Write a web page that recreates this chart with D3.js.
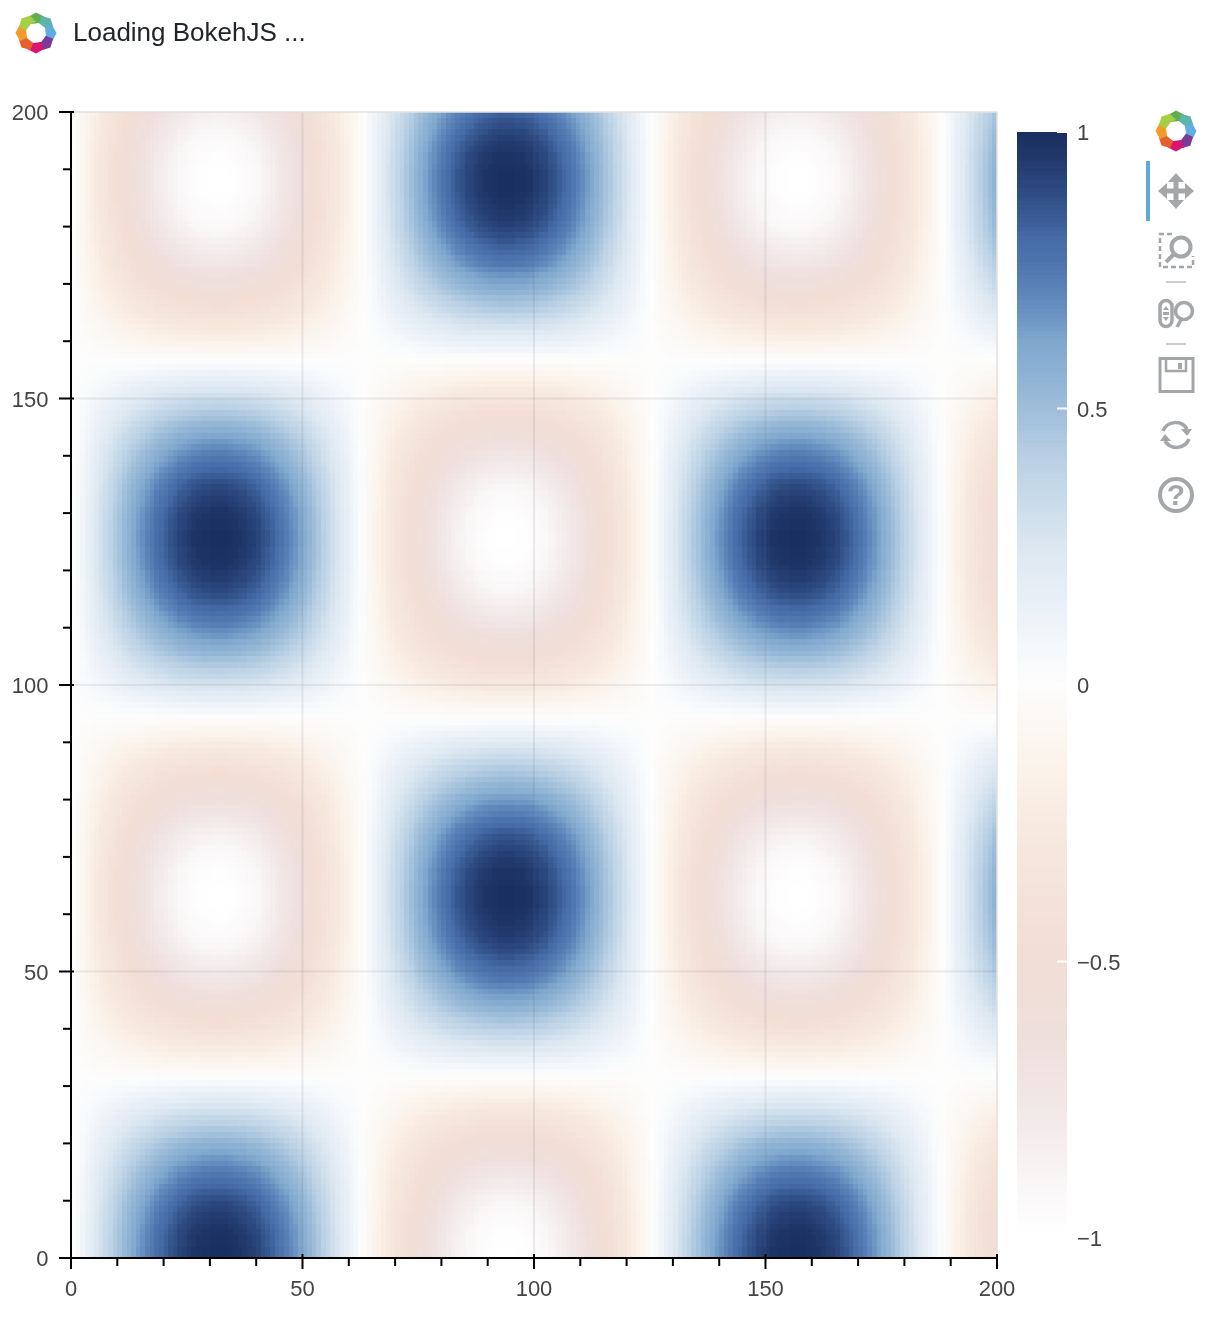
<!DOCTYPE html>
<html><head><meta charset="utf-8">
<style>html,body{margin:0;padding:0;background:#fff;overflow:hidden}
#wrap{position:relative;width:1214px;height:1338px}
canvas,svg{position:absolute;left:0;top:0}
text{font-family:"Liberation Sans",Arial,sans-serif}</style>
<script src="https://cdn.jsdelivr.net/npm/d3@7"></script></head>
<body><div id="wrap"><canvas id="img" width="1214" height="1338"></canvas><svg id="s" width="1214" height="1338"></svg></div>
<script>
// Horizontal and vertical brightness profiles (one entry per data column/row)
const colProfile=[0,.05,.10,.15,.20,.25,.30,.34,.39,.44,.48,.53,.57,.61,.65,.68,.72,.75,.79,.82,.84,.87,.89,.92,.93,.95,.97,.98,.99,.99,1,1,1,1,.99,.98,.97,.96,.94,.93,.91,.88,.86,.83,.80,.77,.74,.70,.67,.63,.59,.55,.50,.46,.41,.37,.32,.27,.22,.18,.13,.08,.03,-.02,-.07,-.12,-.17,-.22,-.27,-.32,-.37,-.41,-.46,-.50,-.55,-.59,-.63,-.67,-.70,-.74,-.77,-.80,-.83,-.86,-.88,-.91,-.92,-.94,-.96,-.97,-.98,-.99,-1,-1,-1,-1,-.99,-.99,-.98,-.97,-.95,-.93,-.92,-.89,-.87,-.84,-.82,-.79,-.76,-.72,-.69,-.65,-.61,-.57,-.53,-.48,-.44,-.39,-.35,-.30,-.25,-.20,-.15,-.10,-.05,0,.05,.10,.15,.20,.25,.30,.34,.39,.44,.48,.53,.57,.61,.65,.68,.72,.75,.79,.82,.84,.87,.89,.92,.93,.95,.97,.98,.99,.99,1,1,1,1,.99,.98,.97,.96,.94,.93,.91,.88,.86,.83,.80,.77,.74,.70,.67,.63,.59,.55,.50,.46,.41,.37,.32,.27,.22,.18,.13,.08,.03,-.02,-.07,-.12,-.17,-.22,-.27,-.32,-.37,-.41,-.46,-.50,-.55];
const rowProfile=[1,1,.99,.99,.98,.97,.95,.94,.92,.90,.88,.85,.82,.79,.76,.73,.69,.66,.62,.58,.54,.49,.45,.40,.36,.31,.26,.21,.16,.11,.06,.01,-.04,-.09,-.14,-.19,-.24,-.28,-.33,-.38,-.43,-.47,-.51,-.56,-.60,-.64,-.67,-.71,-.75,-.78,-.81,-.83,-.86,-.89,-.91,-.93,-.95,-.96,-.97,-.98,-.99,-1,-1,-1,-1,-.99,-.98,-.98,-.96,-.95,-.93,-.91,-.89,-.87,-.84,-.81,-.78,-.74,-.71,-.67,-.64,-.59,-.55,-.51,-.47,-.43,-.38,-.33,-.29,-.24,-.19,-.14,-.09,-.04,.01,.06,.11,.16,.21,.26,.31,.36,.40,.45,.49,.54,.58,.62,.66,.69,.73,.76,.79,.82,.85,.88,.90,.92,.94,.95,.97,.98,.99,.99,1,1,1,.99,.99,.98,.97,.95,.94,.92,.90,.88,.85,.82,.79,.76,.73,.69,.66,.62,.58,.54,.49,.45,.40,.36,.31,.26,.21,.16,.11,.06,.01,-.04,-.09,-.14,-.19,-.24,-.28,-.33,-.38,-.43,-.47,-.51,-.56,-.60,-.64,-.67,-.71,-.75,-.78,-.81,-.83,-.86,-.89,-.91,-.93,-.95,-.96,-.97,-.98,-.99,-1,-1,-1,-1,-.99,-.98,-.98,-.96,-.95,-.93,-.91,-.89,-.87,-.84];
const colorStops=[-1,-.9,-.8,-.65,-.5,-.44,-.35,-.26,-.17,-.05,0,.063,.154,.244,.335,.4,.5,.62,.7,.77,.8,.85,.9,.95,1];
const colorValues=["#ffffff","#f9f6f6","#f3eaeb","#efdfdd","#f1ded5","#f3dfd6","#f5e5db","#f7e9df","#fbf1e8","#fbf9f6","#fdfdfd","#f6f9fb","#e9eff7","#dde8f1","#c9dbea","#bcd2e5","#9fbeda","#80a8ce","#6189bc","#4d74ae","#486eaa","#3a5b95","#2c4a80","#233a6e","#1a2f61"];
const axisTicks=[0,50,100,150,200];
const minorTicks=[10,20,30,40,60,70,80,90,110,120,130,140,160,170,180,190];
const barTicks=[1,.5,0,-.5,-1];
const barLabels=["1","0.5","0","\u22120.5","\u22121"];
const logoColors=["#5fae4f","#5db4ac","#62addf","#7a3b98","#d8176f","#e5612b","#f29b2c","#a6cf45"];

const W=1214,H=1338,frame={l:71,r:997,t:112,b:1258};
const x=d3.scaleLinear().domain([0,200]).range([frame.l,frame.r]);
const y=d3.scaleLinear().domain([0,200]).range([frame.b,frame.t]);
const ramp=d3.scaleLinear().domain(colorStops).range(colorValues).interpolate(d3.interpolateRgb);
const palette=d3.range(256).map(i=>ramp(-1+2*i/255));
const color=d3.scaleQuantize().domain([-1,1]).range(palette);
const barY=d3.scaleLinear().domain([-1,1]).range([1238,132]);

const ctx=document.getElementById('img').getContext('2d');
ctx.fillStyle='#fff';ctx.fillRect(0,0,W,H);
rowProfile.forEach((rv,j)=>{colProfile.forEach((cv,i)=>{
  ctx.fillStyle=color(cv*rv);
  const x0=Math.round(x(i)),x1=Math.round(x(i+1)),y0=Math.round(y(j+1)),y1=Math.round(y(j));
  ctx.fillRect(x0,y0,x1-x0,y1-y0);
});});
// colour bar
palette.forEach((c,i)=>{
  const y0=Math.round(barY(-1+2*(i+1)/256)),y1=Math.round(barY(-1+2*i/256));
  ctx.fillStyle=c;ctx.fillRect(1017,y0,50,y1-y0);
});

const svg=d3.select('#s');
const defs=svg.append('defs');
defs.append('filter').attr('id','soft').append('feGaussianBlur').attr('stdDeviation',.6);
// grid and outline
const gridC='rgba(110,105,115,.12)';
const grid=svg.append('g').attr('stroke',gridC).attr('stroke-width',2).attr('fill','none');
grid.selectAll('.v').data(axisTicks.slice(1,4)).join('line').attr('x1',d=>x(d)).attr('x2',d=>x(d)).attr('y1',frame.t).attr('y2',frame.b);
grid.selectAll('.h').data(axisTicks.slice(1,4)).join('line').attr('class','h').attr('y1',d=>y(d)).attr('y2',d=>y(d)).attr('x1',frame.l).attr('x2',frame.r);
svg.append('path').attr('d',`M${frame.l},${frame.t}H${frame.r}V${frame.b}`).attr('fill','none').attr('stroke','#e3dfdf').attr('stroke-width',1.5);
// axes
const ax=svg.append('g').attr('stroke','#000').attr('stroke-width',2).attr('fill','none');
ax.append('line').attr('x1',frame.l).attr('x2',frame.r).attr('y1',frame.b).attr('y2',frame.b);
ax.append('line').attr('x1',frame.l).attr('x2',frame.l).attr('y1',frame.t-1).attr('y2',frame.b+1);
ax.append('g').selectAll('line').data(axisTicks).join('line').attr('x1',d=>x(d)).attr('x2',d=>x(d)).attr('y1',frame.b-4).attr('y2',frame.b+11);
ax.append('g').selectAll('line').data(minorTicks).join('line').attr('x1',d=>x(d)).attr('x2',d=>x(d)).attr('y1',frame.b).attr('y2',frame.b+8);
ax.append('g').selectAll('line').data(axisTicks).join('line').attr('y1',d=>y(d)).attr('y2',d=>y(d)).attr('x1',frame.l-12).attr('x2',frame.l+3);
ax.append('g').selectAll('line').data(minorTicks).join('line').attr('y1',d=>y(d)).attr('y2',d=>y(d)).attr('x1',frame.l-8).attr('x2',frame.l);
const lab=svg.append('g').attr('fill','#444').attr('font-size',22);
lab.selectAll('.xl').data(axisTicks).join('text').attr('x',d=>x(d)).attr('y',1296).attr('text-anchor','middle').text(d=>d);
lab.append('g').selectAll('text').data(axisTicks).join('text').attr('x',48.5).attr('y',d=>y(d)+8).attr('text-anchor','end').text(d=>d);
// colour-bar ticks and labels
svg.append('g').attr('stroke','#fff').attr('stroke-width',2).selectAll('line').data(barTicks).join('line')
 .attr('x1',1057).attr('x2',1067).attr('y1',d=>barY(d)).attr('y2',d=>barY(d));
lab.append('g').selectAll('text').data(barTicks).join('text').attr('x',1077).attr('y',d=>barY(d)+8).text((d,i)=>barLabels[i]);
// loading header
svg.append('text').attr('x',73).attr('y',41).attr('font-size',26).attr('fill','#212529').text('Loading BokehJS ...');
// logo
function logo(cx,cy){
  const g=svg.append('g').attr('transform',`translate(${cx},${cy})`).attr('filter','url(#soft)');
  logoColors.forEach((c,i)=>{
    g.append('path').attr('transform',`rotate(${i*45})`).attr('d','M-5,-9L-8,-16L0,-20.5L8,-16.5L8,-8L3,-10Z').attr('fill',c);
  });
  g.append('circle').attr('r',8.5).attr('fill','#fff');
}
logo(36,33);logo(1176,131);
// toolbar
svg.append('rect').attr('x',1146).attr('y',161).attr('width',4).attr('height',60).attr('fill','#5ea8dc');
const tb=svg.append('g').attr('fill','none').attr('stroke','#a3a7aa').attr('stroke-width',3);
tb.append('path').attr('fill','#a3a7aa').attr('stroke','none').attr('d','M1176,173l8,9h-5.5v6.5h6.5v-5.5l9,8l-9,8v-5.5h-6.5v6.5h5.5l-8,9l-8,-9h5.5v-6.5h-6.5v5.5l-9,-8l9,-8v5.5h6.5v-6.5h-5.5z');
tb.append('path').attr('stroke-dasharray','5 3').attr('stroke-width',2.5).attr('d','M1172,234H1160V267H1193V256');
tb.append('circle').attr('cx',1181).attr('cy',247).attr('r',9.5).attr('stroke-width',4);
tb.append('line').attr('x1',1174).attr('y1',254).attr('x2',1166).attr('y2',262).attr('stroke-width',4);
tb.selectAll('.sep').data([282,344]).join('line').attr('x1',1166).attr('x2',1186).attr('y1',d=>d).attr('y2',d=>d).attr('stroke','#ccc').attr('stroke-width',2);
tb.append('rect').attr('x',1160).attr('y',300.5).attr('width',12).attr('height',26).attr('rx',6).attr('stroke-width',3.5);
tb.append('path').attr('fill','#a3a7aa').attr('stroke','none').attr('d','M1166,306l3,4h-6zM1166,321l3,-4h-6z');
tb.append('rect').attr('x',1163).attr('y',312).attr('width',6).attr('height',3).attr('fill','#a3a7aa').attr('stroke','none');
tb.append('circle').attr('cx',1184).attr('cy',311).attr('r',8.5).attr('stroke-width',3.5);
tb.append('line').attr('x1',1181).attr('y1',320).attr('x2',1177).attr('y2',327).attr('stroke-width',3.5);
tb.append('rect').attr('x',1160).attr('y',358.5).attr('width',33).attr('height',33).attr('stroke-width',3);
tb.append('path').attr('stroke-width',2.5).attr('d','M1166,358V371H1186V358');
tb.append('rect').attr('x',1178).attr('y',363).attr('width',4).attr('height',6).attr('fill','#a3a7aa').attr('stroke','none');
tb.append('path').attr('stroke-width',3.5).attr('d','M1163,431A13.5,13.5 0 0 1 1187,429M1189,439A13.5,13.5 0 0 1 1165,441');
tb.append('path').attr('fill','#a3a7aa').attr('stroke','none').attr('d','M1181,429h11l-5,7zM1160,441h11l-6,-7z');
tb.append('circle').attr('cx',1176).attr('cy',495).attr('r',16).attr('stroke-width',4);
tb.append('text').attr('x',1176).attr('y',505).attr('text-anchor','middle').attr('font-size',30).attr('font-weight','bold').attr('fill','#a3a7aa').attr('stroke','none').text('?');
</script></body></html>
